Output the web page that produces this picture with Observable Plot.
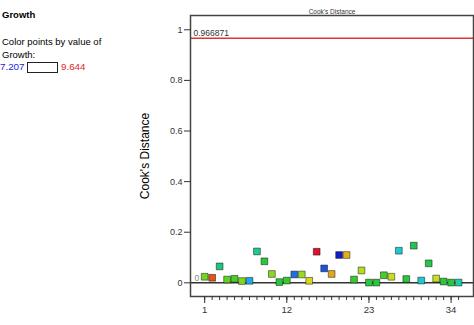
<!DOCTYPE html>
<html><head><meta charset="utf-8">
<script src="https://cdn.jsdelivr.net/npm/d3@7"></script>
<script src="https://cdn.jsdelivr.net/npm/@observablehq/plot@0.6"></script>
<style>
body{margin:0;background:#fff;font-family:"Liberation Sans",Arial,sans-serif;}
#wrap{position:relative;width:474px;height:325px;overflow:hidden;}
#chart{position:absolute;left:0;top:0;}
.t{position:absolute;font-size:9.5px;line-height:10px;white-space:nowrap;color:#000;}
</style></head><body>
<div id="wrap">
<div id="chart"></div>
<div class="t" style="left:2px;top:10px;font-weight:bold;">Growth</div>
<div class="t" style="left:2px;top:37px;">Color points by value of</div>
<div class="t" style="left:2px;top:50px;">Growth:</div>
<div class="t" id="lmin" style="left:0px;top:62px;font-size:9.8px;color:#2323e0;"></div>
<div style="position:absolute;left:27px;top:62px;width:29px;height:9px;border:1px solid #222;background:#fff;"></div>
<div class="t" id="lmax" style="left:61px;top:62px;font-size:9.8px;color:#e02828;"></div>
</div>
<script>
// Data
const rows = d3.range(1, 36);
const cooks = [0.024,0.020,0.065,0.013,0.016,0.007,0.008,0.124,0.085,0.035,
               0.003,0.009,0.033,0.033,0.008,0.123,0.057,0.035,0.110,0.110,
               0.013,0.049,0.001,0.001,0.030,0.024,0.127,0.015,0.147,0.009,
               0.077,0.017,0.005,0.001,0.001];
const growth = [8.669,9.473,8.231,8.620,8.547,8.718,7.816,8.182,8.426,8.742,
                8.426,8.499,7.573,8.791,9.035,9.644,7.451,9.230,7.256,9.205,
                8.499,8.864,8.426,8.426,8.547,8.913,8.011,8.426,8.352,8.011,
                8.377,8.913,8.426,8.426,8.133];
const growthMin = 7.207, growthMax = 9.644;
const refValue = 0.966871;
const yTicks = [0, 0.2, 0.4, 0.6, 0.8, 1];
const xMajor = [1, 12, 23, 34];
const title = "Cook's Distance";
const yLabel = "Cook's Distance";

document.getElementById("lmin").textContent = growthMin.toFixed(3);
document.getElementById("lmax").textContent = growthMax.toFixed(3);

const data = rows.map((r, i) => ({row: r, cook: cooks[i], growth: growth[i]}));

const tStops = [0, 0.12, 0.25, 0.35, 0.45, 0.52, 0.62, 0.72, 0.82, 0.92, 1];
const cStops = ["#1010c0","#2060e0","#20a8e0","#20d0c8","#20c060","#30c830","#80d820","#d8e020","#e0b020","#e06010","#e01030"];

const chart = Plot.plot({
  width: 474, height: 325,
  marginLeft: 190, marginRight: 1, marginTop: 15, marginBottom: 29,
  style: {fontFamily: "Liberation Sans, Arial, sans-serif", fontSize: "9px", color: "#333", background: "transparent"},
  x: {domain: [-0.9, 37], axis: null},
  y: {domain: [-0.054, 1.0565], axis: null},
  color: {type: "linear", domain: tStops.map(t => growthMin + t * (growthMax - growthMin)), range: cStops, interpolate: "rgb"},
  marks: [
    Plot.ruleY([0], {stroke: "#333", strokeWidth: 1.5}),
    Plot.ruleY([refValue], {stroke: "#e03535", strokeWidth: 1.5}),
    Plot.text([refValue], {x: -0.9, y: d => d, text: d => String(d), textAnchor: "start", dx: 3, dy: -5, fontSize: 8.5, fill: "#333"}),
    Plot.text(["0"], {x: -0.9, y: 0, text: d => d, textAnchor: "start", dx: 4, dy: -5, fontSize: 8.5, fill: "#888"}),
    Plot.dot(data, {x: "row", y: "cook", fill: "growth", symbol: "square", r: 3.8, stroke: "black", strokeOpacity: 0.45, strokeWidth: 1}),
    Plot.frame({stroke: "#444", strokeWidth: 1.5}),
    Plot.axisY(yTicks, {tickSize: 6, tickPadding: 2, fontSize: 9, tickFormat: d => d === 0 || d === 1 ? String(d) : d.toFixed(1), label: null, stroke: "#333", fill: "#333"}),
    Plot.axisX(rows, {tickSize: 4, tickFormat: () => "", label: null, stroke: "#333"}),
    Plot.axisX(xMajor, {tickSize: 7, tickPadding: 3, fontSize: 9.5, label: null, stroke: "#333", fill: "#333"}),
    Plot.text([yLabel], {frameAnchor: "left", textAnchor: "middle", dx: -45, rotate: -90, text: d => d, fontSize: 12, fill: "#000"}),
    Plot.text([title], {frameAnchor: "top", textAnchor: "middle", dy: -6, text: d => d, fontSize: 6.5, fill: "#333"})
  ]
});
document.getElementById("chart").appendChild(chart);
</script>
</body></html>
